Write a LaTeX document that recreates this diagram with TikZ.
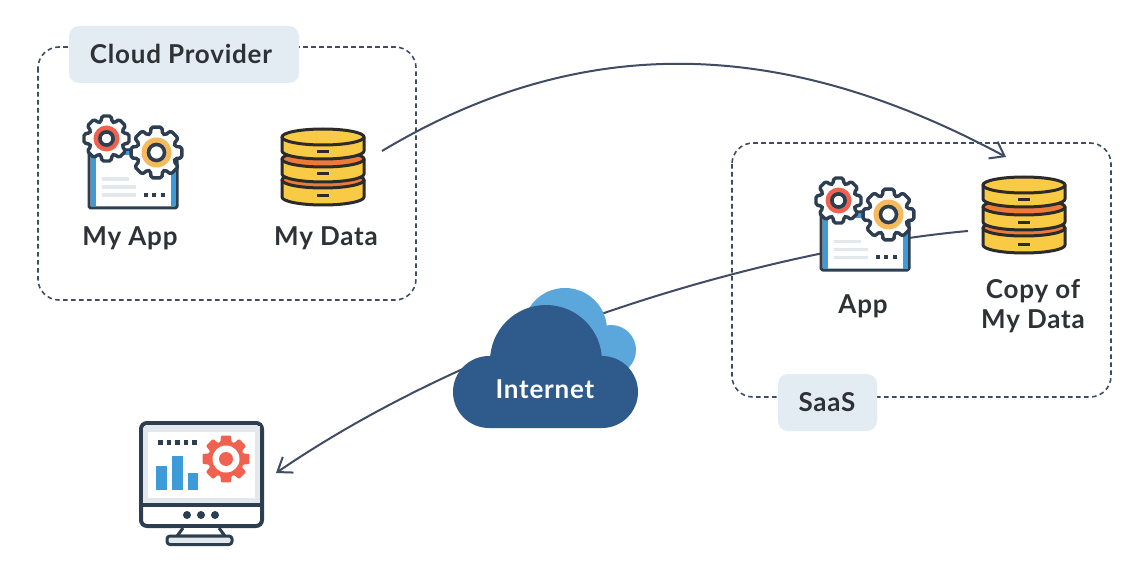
\documentclass[tikz,border=0pt]{standalone}
\usepackage{fontspec}
\setmainfont{Lato}
\newfontfamily\labfont[LetterSpace=3,UprightFont=*,BoldFont=* Bold]{Lato}
\usetikzlibrary{arrows.meta}
\definecolor{ink}{HTML}{2C3E50}
\definecolor{wire}{HTML}{3F4C63}
\definecolor{txt}{HTML}{2E3136}
\definecolor{tag}{HTML}{E4ECF3}
\definecolor{dbY}{HTML}{F9CB45}
\definecolor{dbO}{HTML}{EE7A3A}
\definecolor{dbK}{HTML}{2B2B2B}
\definecolor{gearR}{HTML}{F1614F}
\definecolor{gearO}{HTML}{F6B95B}
\definecolor{winB}{HTML}{3E9BDA}
\definecolor{soft}{HTML}{E3E8EC}
\definecolor{cloudD}{HTML}{2F5B8C}
\definecolor{cloudL}{HTML}{5BA7DC}
\newcommand{\gearpath}[2]{%
      (0-18:#2)
      -- (0-12:#1) -- (0+12:#1) -- (0+18:#2)
      -- (45-18:#2) -- (45-12:#1) -- (45+12:#1) -- (45+18:#2)
      -- (90-18:#2) -- (90-12:#1) -- (90+12:#1) -- (90+18:#2)
      -- (135-18:#2) -- (135-12:#1) -- (135+12:#1) -- (135+18:#2)
      -- (180-18:#2) -- (180-12:#1) -- (180+12:#1) -- (180+18:#2)
      -- (225-18:#2) -- (225-12:#1) -- (225+12:#1) -- (225+18:#2)
      -- (270-18:#2) -- (270-12:#1) -- (270+12:#1) -- (270+18:#2)
      -- (315-18:#2) -- (315-12:#1) -- (315+12:#1) -- (315+18:#2) -- cycle}
\newcommand{\gearicon}[7]{% x,y,outer,inner,colour radius,colour,ring radius
  \begin{scope}[shift={(#1,#2)}]
    \draw[ol,line width=3.4pt,fill=white,rounded corners=1.8pt] \gearpath{#3}{#4};
    \fill[#6] (0,0) circle[radius=#5];
    \draw[ink,line width=3.6pt,fill=white] (0,0) circle[radius=#7];
  \end{scope}}
\newcommand{\appicon}[2]{%
  \begin{scope}[shift={(#1,#2)}]
    \draw[ol,fill=white,rounded corners=1.5pt] (89,150) rectangle (177,208);
    \fill[winB] (90.5,151.5) rectangle (95.5,206.5);
    \fill[winB] (170.5,151.5) rectangle (175.5,206.5);
    \fill[winB] (90.5,151.5) rectangle (175.5,155.5);
    \fill[soft] (102,177.5) rectangle (129,181);
    \fill[soft] (102,185.5) rectangle (136,189);
    \fill[soft] (102,193.5) rectangle (136,197);
    \fill[ink] (144,193) rectangle (148,197);
    \fill[ink] (152,193) rectangle (156,197);
    \fill[ink] (161,193) rectangle (165,197);
    \gearicon{106.5}{138.5}{23}{17.5}{13}{gearR}{6.6}
    \gearicon{156.5}{152.5}{26}{19.5}{15}{gearO}{8}
  \end{scope}}
\newcommand{\dblayer}[3]{% top, wall height, top colour
    \draw[dbline,fill=dbY] (-41,#1) -- (-41,#1+#2)
        arc[start angle=180,end angle=0,x radius=41,y radius=8] -- (41,#1) -- cycle;
    \draw[dbline,fill=#3] (0,#1) ellipse[x radius=41,y radius=8];}
\newcommand{\dbicon}[2]{%
  \begin{scope}[shift={(#1,#2)}]
    \dblayer{43}{17}{dbO}
    \dblayer{22}{15}{dbO}
    \dblayer{0}{14}{dbY}
    \foreach \t in {15,37,59}{\fill[dbK] (-6,\t-1.5) rectangle (6,\t+1.5);}
  \end{scope}}
\tikzset{
  zone/.style={draw=wire,line width=1.6pt,dash pattern=on 4.6pt off 3.4pt,rounded corners=21pt},
  tagbox/.style={fill=tag,rounded corners=10pt},
  wirearrow/.style={draw=wire,line width=2pt,-{Straight Barb[length=13pt,width=19pt,line width=2pt]}},
  lab/.style={text=txt,font=\labfont\bfseries\fontsize{26}{30}\selectfont,align=center,inner sep=0pt},
  ol/.style={draw=ink,line width=3pt,line join=round},
  dbline/.style={draw=dbK,line width=3pt,line join=round},
}
\begin{document}
\begin{tikzpicture}[x=1pt,y=1pt,yscale=-1]
\useasboundingbox (0,0) rectangle (1144,575);
\fill[white] (0,0) rectangle (1144,575);
% zones
\draw[zone] (38,47) rectangle (416,300);
\draw[zone] (732,143) rectangle (1111,397);
\fill[tagbox] (69,26) rectangle (299,83);
\node[lab] (cloudprovider) at (181,54) {Cloud Provider};
\fill[tagbox] (778,374) rectangle (877,431);
\node[lab] (saas) at (827,402) {SaaS};
% connector anchors
\coordinate (dataout) at (382,151);
\coordinate (copyin) at (1006,157);
\coordinate (copyout) at (968,231);
\coordinate (screen) at (276,473);
\draw[wirearrow] (dataout) .. controls (584,30) and (785,38) .. (copyin);
\draw[wirearrow] (copyout) .. controls (800,246) and (500,320) .. (screen);
% icons
\appicon{0}{0}
\appicon{732}{62}
\dbicon{323}{137}
\dbicon{1024}{185}
% labels
\node[lab] (myapp) at (130,238.5) {My App};
\node[lab] (mydata) at (326,238.5) {My Data};
\node[lab] (app) at (863,306.5) {App};
\node[lab] (copy) at (1033,306.5) {Copy of\\My Data};
% cloud
\fill[cloudL] (565,330) circle[radius=42];
\fill[cloudL] (611,350) circle[radius=25];
\fill[cloudD] (546,361) circle[radius=56];
\fill[cloudD,rounded corners=36pt] (453,356) rectangle (638,428);
\node[lab,text=white] (internet) at (545,389) {Internet};
% monitor
\draw[ol,line width=4pt,fill=white,rounded corners=6pt] (141,423) rectangle (262,526);
\fill[soft] (143.5,426) rectangle (259.5,503);
\fill[white] (148,432) rectangle (255,498);
\draw[ink,line width=4pt] (141,505) -- (262,505);
\fill[ink] (187,515) circle[radius=4];
\fill[ink] (201,515) circle[radius=4];
\fill[ink] (215,515) circle[radius=4];
\draw[ol,fill=white] (183,528) -- (177,536) -- (225,536) -- (219,528);
\draw[ol,fill=soft,rounded corners=3pt] (167,536) rectangle (232,544.5);
\foreach \x in {158,166.5,175,183.5,192}{\fill[ink] (\x,440) rectangle (\x+4.5,444.5);}
\fill[winB] (156,466) rectangle (166.5,490);
\fill[winB] (172,456) rectangle (182.5,490);
\fill[winB] (188,473) rectangle (198,490);
\begin{scope}[shift={(226,459)}]
\fill[gearR,rounded corners=1pt] \gearpath{24}{18};
\fill[white] (0,0) circle[radius=13.5];
\fill[gearR] (0,0) circle[radius=7];
\end{scope}
\end{tikzpicture}
\end{document}
